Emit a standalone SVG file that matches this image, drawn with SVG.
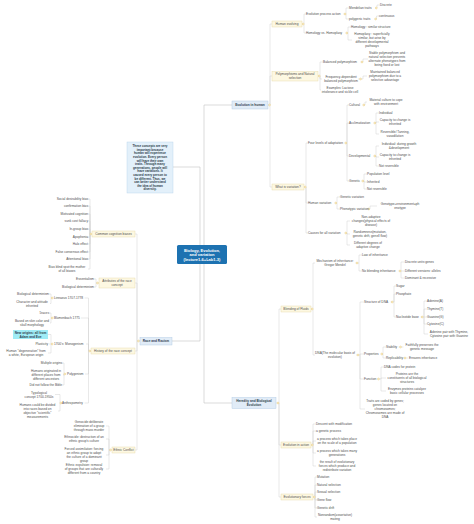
<svg xmlns="http://www.w3.org/2000/svg" width="474" height="524" viewBox="0 0 474 524">
<style>
.t{font-family:"Liberation Sans",Arial,sans-serif;font-size:3.2px;fill:#4d4d4d}
.m{text-anchor:middle}
.e{text-anchor:end}
.b{font-weight:bold;fill:#2e3d4d}
.w{fill:#ffffff;font-weight:bold;font-size:4px}
.nt{font-weight:bold;font-size:3px;fill:#2b3a48}
.c path{fill:none;stroke:#cdcdcd;stroke-width:.45}
.c .k{stroke:#c4c4c4;stroke-width:.6}
.mk{fill:#fffbe6;stroke:#e3b84f;stroke-width:.4}
.sub{fill:#fdf8e2;stroke:#e4d8a4;stroke-width:.4}
.main{fill:#e1ecf7;stroke:#a9c6e2;stroke-width:.4}
</style>
<rect width="474" height="524" fill="#ffffff"/>
<g id="connectors" class="c">
<path class="k" d="M200 245V167H173M204 245V105H232M200 264V341H172M204 264V403H232"/>
<path d="M268 105H270V24H272M270 105V76H272M270 105V187H272"/>
<path d="M302 24H304V14H306M304 24V33H306"/>
<path d="M343.5 14H346V8H349M346 14V19H349"/>
<path d="M375.5 8H377V5H380M374.5 19H376.5V16H379"/>
<path d="M345.5 33H348V27H351M348 33V40H352"/>
<path d="M318 76H320V62H323M320 76V79H322M320 76V90H321"/>
<path d="M360.5 62H363V59H368M358 79H363V76H367"/>
<path d="M304 187H306V143H308M306 187V203H308M306 187V233H308"/>
<path d="M344.5 143H347V105H349M347 143V123H349M347 143V156H349M347 143V181H349"/>
<path d="M362.5 105H365V102H367"/>
<path d="M373.5 123H376V113H379M376 123V122H379M376 123V134H379"/>
<path d="M373.5 156H376V146H379M376 156V157H379M376 156V166H379"/>
<path d="M361.5 181H364V174H367M364 181V182H367M364 181V189H367"/>
<path d="M334.5 203H337V197H340M337 203V209H340"/>
<path d="M367.5 209H370V206H377"/>
<path d="M344.5 233H347V221H350M347 233V234H350M347 233V245H350"/>
<path d="M276 403H279V309H281M279 403V445H281M279 403V497H281"/>
<path d="M311 309H313V263H315M313 309V355H315"/>
<path d="M355.5 263H359V255H362M359 263V271H362"/>
<path d="M398.5 271H401V262H405M401 271H405M401 271V278H405"/>
<path d="M356 355H360V302H364M360 355V354H364M360 355V379H364M360 355V409H365"/>
<path d="M390.5 302H394V286H396M394 302V294H396M394 302V317H396"/>
<path d="M420.5 317H424V301H427M424 317V309H427M424 317H427M424 317V324H427M424 317V334H428"/>
<path d="M380.5 354H383V347H386M383 354V358H386"/>
<path d="M398.5 347H403.5M403 358H408"/>
<path d="M376.5 379H381V367H384M381 379V378H386M381 379V391H386"/>
<path d="M311 445H313V424H316M313 445V431H316M313 445V441H316M313 445V453H316M313 445V466H316"/>
<path d="M313 497H315V477H317M315 497V485H317M315 497V492H317M315 497V500H317M315 497V508H317M315 497V517H317"/>
<path d="M140 341H137V234H135M137 341V283H135M137 341V351H135M137 341V450H135"/>
<path d="M92 234H90V199H88M90 234V206H88M90 234V214H88M90 234V221H88M90 234V229H88M90 234V237H88M90 234V244H88M90 234V252H88M90 234V259H88M90 234V269H88"/>
<path d="M99 283H96V279H94M96 283V287H94"/>
<path d="M91 351H88.5V298H84.5M88.5 351V318H81M88.5 351V344H86M88.5 351V374H85M88.5 351V403H84.5"/>
<path d="M53 298H51V294H49M51 298V303.5H50"/>
<path d="M53 318H51V313H49M51 318V323H50"/>
<path d="M53 344H51V334.5H48M51 344H49M51 344V353H48"/>
<path d="M65.5 374H64V363H62M64 374V375H63M64 374V385H62"/>
<path d="M61.5 403H60V394.5H55M60 403V411H58"/>
<path d="M112 450H109V426H106M109 450V439H106M109 450V455H106M109 450V469H106"/>
<circle class="mk" cx="269.5" cy="105" r="0.9"/>
<circle class="mk" cx="303.2" cy="24" r="0.9"/>
<circle class="mk" cx="345" cy="14" r="0.9"/>
<circle class="mk" cx="376.3" cy="8" r="0.9"/>
<circle class="mk" cx="375.6" cy="19" r="0.9"/>
<circle class="mk" cx="346.8" cy="33" r="0.9"/>
<circle class="mk" cx="319.2" cy="76" r="0.9"/>
<circle class="mk" cx="362" cy="62" r="0.9"/>
<circle class="mk" cx="360.5" cy="79" r="0.9"/>
<circle class="mk" cx="305.2" cy="187" r="0.9"/>
<circle class="mk" cx="345.8" cy="143" r="0.9"/>
<circle class="mk" cx="363.8" cy="105" r="0.9"/>
<circle class="mk" cx="374.8" cy="123" r="0.9"/>
<circle class="mk" cx="374.8" cy="156" r="0.9"/>
<circle class="mk" cx="362.8" cy="181" r="0.9"/>
<circle class="mk" cx="335.8" cy="203" r="0.9"/>
<circle class="mk" cx="368.8" cy="209" r="0.9"/>
<circle class="mk" cx="345.8" cy="233" r="0.9"/>
<circle class="mk" cx="278" cy="403" r="0.9"/>
<circle class="mk" cx="312.2" cy="309" r="0.9"/>
<circle class="mk" cx="357" cy="263" r="0.9"/>
<circle class="mk" cx="400" cy="271" r="0.9"/>
<circle class="mk" cx="358" cy="355" r="0.9"/>
<circle class="mk" cx="392.2" cy="302" r="0.9"/>
<circle class="mk" cx="422.2" cy="317" r="0.9"/>
<circle class="mk" cx="381.8" cy="354" r="0.9"/>
<circle class="mk" cx="400.5" cy="347" r="0.9"/>
<circle class="mk" cx="405" cy="358" r="0.9"/>
<circle class="mk" cx="378.5" cy="379" r="0.9"/>
<circle class="mk" cx="312.2" cy="445" r="0.9"/>
<circle class="mk" cx="314.2" cy="497" r="0.9"/>
<circle class="mk" cx="138.5" cy="341" r="0.9"/>
<circle class="mk" cx="91" cy="234" r="0.9"/>
<circle class="mk" cx="97.5" cy="283" r="0.9"/>
<circle class="mk" cx="89.8" cy="351" r="0.9"/>
<circle class="mk" cx="52.2" cy="298" r="0.9"/>
<circle class="mk" cx="52.2" cy="318" r="0.9"/>
<circle class="mk" cx="52.2" cy="344" r="0.9"/>
<circle class="mk" cx="64.8" cy="374" r="0.9"/>
<circle class="mk" cx="60.8" cy="403" r="0.9"/>
<circle class="mk" cx="110.5" cy="450" r="0.9"/>
</g>
<g id="central"><rect x="177" y="245" width="50" height="19" rx="1.5" fill="#1d72b1"/><text class="t m w"><tspan x="202" y="251.8">Biology, Evolution,</tspan><tspan x="202" y="256.4">and variation</tspan><tspan x="202" y="261">(lecture1-6+Lab1-3)</tspan></text></g>
<g id="note"><rect x="127" y="142" width="46" height="51" fill="#e3f0fa" stroke="#b3d0e8" stroke-width=".4"/><text class="t m nt"><tspan x="150" y="147.2">These concepts are very</tspan><tspan x="150" y="150.8">important because</tspan><tspan x="150" y="154.4">human will experience</tspan><tspan x="150" y="158">evolution. Every person</tspan><tspan x="150" y="161.6">will have their own</tspan><tspan x="150" y="165.2">traits. Through many</tspan><tspan x="150" y="168.8">generations, people will</tspan><tspan x="150" y="172.4">have variations. It</tspan><tspan x="150" y="176">caused every person to</tspan><tspan x="150" y="179.6">be different. Thus, we</tspan><tspan x="150" y="183.2">can better understand</tspan><tspan x="150" y="186.8">the idea of human</tspan><tspan x="150" y="190.4">diversity.</tspan></text></g>
<g id="evolution-in-human"><rect class="main" x="232" y="101" width="36" height="8"/><text class="t m b" x="250" y="106.1">Evolution in human</text></g>
<g id="race-and-racism"><rect class="main" x="140" y="337.5" width="32" height="7.5"/><text class="t m b" x="156" y="342.2">Race and Racism</text></g>
<g id="heredity"><rect class="main" x="232" y="397.5" width="44" height="11"/><text class="t m b"><tspan x="254" y="401.8">Heredity and Biological</tspan><tspan x="254" y="405.8">Evolution</tspan></text></g>
<g id="human-evolving"><rect class="sub" x="272" y="21" width="30" height="6"/><text class="t m" x="287" y="25.1">Human evolving</text></g>
<g id="polymorphisms"><rect class="sub" x="272" y="71.5" width="46" height="9.5"/><text class="t m"><tspan x="295" y="75.3">Polymorphisms and Natural</tspan><tspan x="295" y="79.2">selection</tspan></text></g>
<g id="what-is-variation"><rect class="sub" x="272" y="184" width="32" height="6"/><text class="t m" x="288" y="188.1">What is variation?</text></g>
<g id="evo-process"><text class="t" x="306" y="15.1">Evolution process action</text></g>
<g id="mendelian"><text class="t" x="349" y="9.1">Mendelian traits</text></g>
<g id="discrete"><text class="t" x="380" y="6.1">Discrete</text></g>
<g id="polygenic"><text class="t" x="349" y="20.1">polygenic traits</text></g>
<g id="continuous"><text class="t" x="379" y="17.1">continuous</text></g>
<g id="homology-vs"><text class="t" x="306" y="34.1">Homology vs. Homoplasy</text></g>
<g id="homology"><text class="t" x="351" y="28.1">Homology : similar structure</text></g>
<g id="homoplasy"><text class="t m"><tspan x="372" y="35.1">Homoplasy : superficially</tspan><tspan x="372" y="39.1">similar, but arise by</tspan><tspan x="372" y="43.1">different developmental</tspan><tspan x="372" y="47.1">pathways</tspan></text></g>
<g id="balanced"><text class="t" x="323" y="63.1">Balanced polymorphism</text></g>
<g id="stable"><text class="t m"><tspan x="387" y="54.1">Stable polymorphism and</tspan><tspan x="387" y="58.1">natural selection prevents</tspan><tspan x="387" y="62.1">alternate phenotypes from</tspan><tspan x="387" y="66.1">being fixed or lost</tspan></text></g>
<g id="frequency"><text class="t m"><tspan x="341" y="78.1">Frequency-dependent</tspan><tspan x="341" y="82.1">balanced polymorphism</tspan></text></g>
<g id="maintained"><text class="t m"><tspan x="385" y="73.1">Maintained balanced</tspan><tspan x="385" y="77.1">polymorphism due to a</tspan><tspan x="385" y="81.1">selective advantage</tspan></text></g>
<g id="examples"><text class="t m"><tspan x="340" y="89.1">Examples: Lactose</tspan><tspan x="340" y="93.1">intolerance and sickle cell</tspan></text></g>
<g id="four-levels"><text class="t" x="308" y="144.1">Four levels of adaptation</text></g>
<g id="cultural"><text class="t" x="349" y="106.1">Cultural</text></g>
<g id="material"><text class="t m"><tspan x="386" y="101.1">Material culture to cope</tspan><tspan x="386" y="105.1">with environment</tspan></text></g>
<g id="acclimatization"><text class="t" x="349" y="124.1">Acclimatization</text></g>
<g id="acc-individual"><text class="t" x="379" y="114.1">Individual</text></g>
<g id="acc-capacity"><text class="t m"><tspan x="395" y="121.1">Capacity to change is</tspan><tspan x="395" y="125.1">inherited</tspan></text></g>
<g id="acc-reversible"><text class="t m"><tspan x="395" y="133.1">Reversible/ Tanning,</tspan><tspan x="395" y="137.1">vasodilation</tspan></text></g>
<g id="developmental"><text class="t" x="349" y="157.1">Developmental</text></g>
<g id="dev-individual"><text class="t m"><tspan x="399" y="145.1">Individual: during growth</tspan><tspan x="399" y="149.1">&amp;development</tspan></text></g>
<g id="dev-capacity"><text class="t m"><tspan x="395" y="156.1">Capacity to change is</tspan><tspan x="395" y="160.1">inherited</tspan></text></g>
<g id="dev-not"><text class="t" x="379" y="167.1">Not reversible</text></g>
<g id="genetic"><text class="t" x="349" y="182.1">Genetic</text></g>
<g id="gen-pop"><text class="t" x="367" y="175.1">Population level</text></g>
<g id="gen-inh"><text class="t" x="367" y="183.1">Inherited</text></g>
<g id="gen-not"><text class="t" x="367" y="190.1">Not reversible</text></g>
<g id="human-variation"><text class="t" x="308" y="204.1">Human variation</text></g>
<g id="genetic-variation"><text class="t" x="340" y="198.1">Genetic variation</text></g>
<g id="phenotypic"><text class="t" x="340" y="210.1">Phenotypic variation</text></g>
<g id="genotype"><text class="t m"><tspan x="400" y="205.1">Genotype+environment=ph</tspan><tspan x="400" y="209.1">enotype</tspan></text></g>
<g id="causes"><text class="t" x="308" y="234.1">Causes for all variation</text></g>
<g id="non-adaptive"><text class="t m"><tspan x="371" y="218.1">Non-adaptive</tspan><tspan x="371" y="222.1">changes(physical effects of</tspan><tspan x="371" y="226.1">disease)</tspan></text></g>
<g id="randomness"><text class="t m"><tspan x="370" y="233.1">Randomness(mutation,</tspan><tspan x="370" y="237.1">genetic drift, genell flow)</tspan></text></g>
<g id="different-degrees"><text class="t m"><tspan x="368" y="244.1">Different degrees of</tspan><tspan x="368" y="248.1">adaptive change</tspan></text></g>
<g id="blending"><rect class="sub" x="281" y="306" width="30" height="6"/><text class="t m" x="296" y="310.1">Blending of Fluids</text></g>
<g id="evolution-in-action"><rect class="sub" x="281" y="442" width="30" height="6"/><text class="t m" x="296" y="446.1">Evolution in action</text></g>
<g id="evolutionary-forces"><rect class="sub" x="281" y="494" width="32" height="6"/><text class="t m" x="297" y="498.1">Evolutionary forces</text></g>
<g id="mechanism"><text class="t m"><tspan x="335" y="262.1">Mechanism of inheritance:</tspan><tspan x="335" y="266.1">Gregor Mendel</tspan></text></g>
<g id="law"><text class="t" x="362" y="256.1">Law of inheritance</text></g>
<g id="no-blending"><text class="t" x="362" y="272.1">No blending inheritance</text></g>
<g id="discrete-units"><text class="t" x="405" y="263.1">Discrete units:genes</text></g>
<g id="versions"><text class="t" x="405" y="272.1">Different versions: alleles</text></g>
<g id="dominant"><text class="t" x="405" y="279.1">Dominant &amp; recessive</text></g>
<g id="dna"><text class="t m"><tspan x="335" y="354.1">DNA(The molecular basis of</tspan><tspan x="335" y="358.1">evolution)</tspan></text></g>
<g id="structure"><text class="t" x="364" y="303.1">Structure of DNA</text></g>
<g id="sugar"><text class="t" x="396" y="287.1">Sugar</text></g>
<g id="phosphate"><text class="t" x="396" y="295.1">Phosphate</text></g>
<g id="nucleotide"><text class="t" x="396" y="318.1">Nucleotide base</text></g>
<g id="adenine"><text class="t" x="427" y="302.1">Adenine(A)</text></g>
<g id="thymine"><text class="t" x="427" y="310.1">Thymine(T)</text></g>
<g id="guanine"><text class="t" x="427" y="318.1">Guanine(G)</text></g>
<g id="cytosine"><text class="t" x="427" y="325.1">Cytosine(C)</text></g>
<g id="pairs"><text class="t m"><tspan x="449" y="333.1">Adenine pair with Thymine,</tspan><tspan x="449" y="337.1">Cytosine pair with Guanine</tspan></text></g>
<g id="properties"><text class="t" x="364" y="355.1">Properties</text></g>
<g id="stability"><text class="t" x="386" y="348.1">Stability</text></g>
<g id="faithfully"><text class="t m"><tspan x="422" y="346.1">Faithfully preserves the</tspan><tspan x="422" y="350.1">genetic message</tspan></text></g>
<g id="replicability"><text class="t" x="386" y="359.1">Replicability</text></g>
<g id="ensures"><text class="t" x="409" y="359.1">Ensures inheritance</text></g>
<g id="function"><text class="t" x="364" y="380.1">Function</text></g>
<g id="dna-codes"><text class="t" x="384" y="368.1">DNA codes for protein</text></g>
<g id="proteins"><text class="t m"><tspan x="407" y="375.1">Proteins are the</tspan><tspan x="407" y="379.1">constituents of all biological</tspan><tspan x="407" y="383.1">structures</tspan></text></g>
<g id="enzymes"><text class="t m"><tspan x="407" y="390.1">Enzymes proteins catalyze</tspan><tspan x="407" y="394.1">basic cellular processes</tspan></text></g>
<g id="traits"><text class="t m"><tspan x="385" y="402.1">Traits are coded by genes;</tspan><tspan x="385" y="406.1">genes located on</tspan><tspan x="385" y="410.1">chromosomes;</tspan><tspan x="385" y="414.1">Chromosomes are made of</tspan><tspan x="385" y="418.1">DNA</tspan></text></g>
<g id="descent"><text class="t" x="316" y="425.1">Descent with modification</text></g>
<g id="genetic-process"><text class="t" x="316" y="432.1">a genetic process</text></g>
<g id="population-scale"><text class="t m"><tspan x="337" y="440.1">a process which takes place</tspan><tspan x="337" y="444.1">on the scale of a population</tspan></text></g>
<g id="many-generations"><text class="t m"><tspan x="337" y="452.1">a process which takes many</tspan><tspan x="337" y="456.1">generations</tspan></text></g>
<g id="result"><text class="t m"><tspan x="337" y="463.1">the result of evolutionary</tspan><tspan x="337" y="467.1">forces which produce and</tspan><tspan x="337" y="471.1">redistribute variation</tspan></text></g>
<g id="mutation"><text class="t" x="317" y="478.1">Mutation</text></g>
<g id="natural-selection"><text class="t" x="317" y="486.1">Natural selection</text></g>
<g id="sexual-selection"><text class="t" x="317" y="493.1">Sexual selection</text></g>
<g id="gene-flow"><text class="t" x="317" y="501.1">Gene flow</text></g>
<g id="genetic-drift"><text class="t" x="317" y="509.1">Genetic drift</text></g>
<g id="nonrandom"><text class="t m"><tspan x="335" y="516.1">Nonrandom(assortative)</tspan><tspan x="335" y="520.1">mating</tspan></text></g>
<g id="cognition-biases"><rect class="sub" x="92" y="231" width="43" height="6"/><text class="t m" x="113.5" y="235.1">Common cognition biases</text></g>
<g id="bias-items"><text class="t e"><tspan x="88" y="200.1">Social desirability bias</tspan><tspan x="88" y="207.1">confirmation bias</tspan><tspan x="88" y="215.1">Motivated cognition</tspan><tspan x="88" y="222.1">sunk cost fallacy</tspan><tspan x="88" y="230.1">In-group bias</tspan><tspan x="88" y="238.1">Apophenia</tspan><tspan x="88" y="245.1">Halo effect</tspan><tspan x="88" y="253.1">False consensus effect</tspan><tspan x="88" y="260.1">Attentional bias</tspan></text></g>
<g id="blind-spot"><text class="t m"><tspan x="67" y="268.1">Bias blind spot:the mother</tspan><tspan x="67" y="272.1">of all biases</tspan></text></g>
<g id="attributes"><rect class="sub" x="99" y="278" width="36" height="10"/><text class="t m"><tspan x="117" y="281.9">Attributes of the race</tspan><tspan x="117" y="285.9">concept</tspan></text></g>
<g id="essentialism"><text class="t e" x="94" y="280.1">Essentialism</text></g>
<g id="bio-det-1"><text class="t e" x="94" y="288.1">Biological determinism</text></g>
<g id="history"><rect class="sub" x="91" y="348" width="44" height="6"/><text class="t m" x="113" y="352.1">History of the race concept</text></g>
<g id="linnaeus"><text class="t" x="54" y="299.1">Linnaeus 1707-1778</text></g>
<g id="bio-det-2"><text class="t e" x="49" y="295.1">Biological determinism</text></g>
<g id="character"><text class="t m"><tspan x="32" y="302.6">Character and attitude</tspan><tspan x="32" y="306.6">inherited</tspan></text></g>
<g id="blumenbach"><text class="t" x="54" y="319.1">Blumenbach 1775</text></g>
<g id="five-races"><text class="t e" x="49" y="314.1">5races</text></g>
<g id="skin-color"><text class="t m"><tspan x="32" y="322.1">Based on skin color and</tspan><tspan x="32" y="326.1">skull morphology</tspan></text></g>
<g id="monogenism"><text class="t" x="54" y="345.1">1700's: Monogenism</text></g>
<g id="new-origins"><rect x="13" y="330" width="35" height="9" fill="#9fecf6"/><text class="t m b"><tspan x="30.5" y="333.8">New origins: all from</tspan><tspan x="30.5" y="337.6">Adam and Eve</tspan></text></g>
<g id="plasticity"><text class="t e" x="48" y="345.1">Plasticity</text></g>
<g id="degeneration"><text class="t m"><tspan x="26" y="352.1">Human "degeneration" from</tspan><tspan x="26" y="356.1">a white, European origin</tspan></text></g>
<g id="polygenism"><text class="t" x="67" y="375.1">Polygenism</text></g>
<g id="multiple-origins"><text class="t e" x="62" y="364.1">Multiple origins</text></g>
<g id="humans-originated"><text class="t m"><tspan x="46" y="372.1">Humans originated in</tspan><tspan x="46" y="376.1">different places from</tspan><tspan x="46" y="380.1">different ancestors</tspan></text></g>
<g id="bible"><text class="t e" x="62" y="386.1">Did not follow the Bible</text></g>
<g id="anthropometry"><text class="t" x="62" y="404.1">Anthropometry</text></g>
<g id="typological"><text class="t m"><tspan x="39" y="393.6">Typological</tspan><tspan x="39" y="397.6">concept 1700-1950s</tspan></text></g>
<g id="divided"><text class="t m"><tspan x="37.5" y="406.1">Humans could be divided</tspan><tspan x="37.5" y="410.1">into races based on</tspan><tspan x="37.5" y="414.1">objective "scientific"</tspan><tspan x="37.5" y="418.1">measurements</tspan></text></g>
<g id="ethnic-conflict"><rect class="sub" x="112" y="447" width="23" height="6"/><text class="t m" x="123.5" y="451.1">Ethnic Conflict</text></g>
<g id="genocide"><text class="t m"><tspan x="89" y="423.1">Genocide:deliberate</tspan><tspan x="89" y="427.1">elimination of a group</tspan><tspan x="89" y="431.1">through mass murder</tspan></text></g>
<g id="ethnocide"><text class="t m"><tspan x="84" y="438.1">Ethnocide: destruction of an</tspan><tspan x="84" y="442.1">ethnic group's culture</tspan></text></g>
<g id="forced"><text class="t m"><tspan x="84" y="450.1">Forced assimilation: forcing</tspan><tspan x="84" y="454.1">an ethnic group to adopt</tspan><tspan x="84" y="458.1">the culture of a dominant</tspan><tspan x="84" y="462.1">group</tspan></text></g>
<g id="expulsion"><text class="t m"><tspan x="84" y="466.1">Ethnic expulsion: removal</tspan><tspan x="84" y="470.1">of groups that are culturally</tspan><tspan x="84" y="474.1">different from a country</tspan></text></g>
</svg>
